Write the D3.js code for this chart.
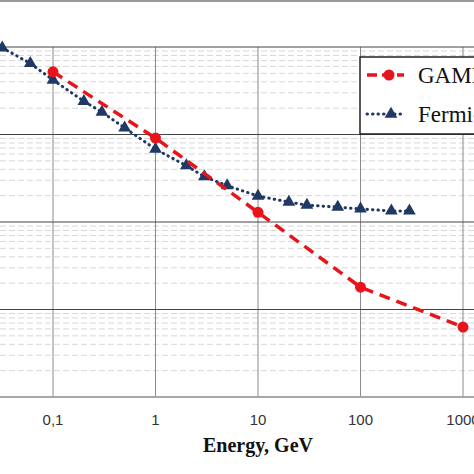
<!DOCTYPE html>
<html><head><meta charset="utf-8">
<script src="https://cdn.jsdelivr.net/npm/d3@7"></script>
<style>body{margin:0;background:#fff}</style>
</head><body>
<script>
// Data
const gammaE = [0.1, 1, 10, 100, 1000];
const gammaF = [0.52, 0.091, 0.0129, 0.0018, 0.00063];
const fermiE = [0.032, 0.06, 0.1, 0.2, 0.3, 0.5, 1, 2, 3, 5, 10, 20, 30, 60, 100, 200, 300];
const fermiF = [0.98, 0.65, 0.42, 0.24, 0.18, 0.119, 0.068, 0.044, 0.033, 0.026, 0.0198, 0.0169, 0.0156, 0.0148, 0.0141, 0.0134, 0.0134];
const xTicks = [0.1, 1, 10, 100, 1000];
const xLabels = ["0,1", "1", "10", "100", "1000"];
const yDecades = [1, 0.1, 0.01, 0.001, 0.0001];

const W = 474, H = 474;
const svg = d3.select("body").append("svg").attr("width", W).attr("height", H);
const x = d3.scaleLog().domain([0.1, 1000]).range([53, 463]);
const y = d3.scaleLog().domain([1, 1e-4]).range([47, 397]);

// figure top border
svg.append("line").attr("x1", 0).attr("x2", W).attr("y1", 1).attr("y2", 1)
  .attr("stroke", "#999").attr("stroke-width", 2);

// minor horizontal grid
const minors = [];
yDecades.slice(1).forEach(d => { for (let k = 2; k <= 9; k++) minors.push(d * k); });
svg.selectAll(".minor").data(minors).join("line")
  .attr("x1", 0).attr("x2", W).attr("y1", d => y(d)).attr("y2", d => y(d))
  .attr("stroke", "#d8d8d8").attr("stroke-dasharray", "6,3");

// vertical grid
svg.selectAll(".vg").data(xTicks).join("line")
  .attr("x1", d => x(d)).attr("x2", d => x(d)).attr("y1", 47).attr("y2", 397)
  .attr("stroke", "#8a8a8a");

// major horizontal grid
svg.selectAll(".hg").data(yDecades).join("line")
  .attr("x1", 0).attr("x2", W).attr("y1", d => y(d)).attr("y2", d => y(d))
  .attr("stroke", "#444").attr("stroke-width", 1.2);
svg.append("line").attr("x1", 0).attr("x2", W).attr("y1", 397).attr("y2", 397)
  .attr("stroke", "#aaa").attr("stroke-width", 1.5);

// Fermi series
const fermi = fermiE.map((e, i) => [e, fermiF[i]]);
svg.append("path").datum(fermi)
  .attr("d", d3.line().x(d => x(d[0])).y(d => y(d[1])))
  .attr("fill", "none").attr("stroke", "#1f3864").attr("stroke-width", 3)
  .attr("stroke-dasharray", "0.5,5").attr("stroke-linecap", "round");
const tri = d3.symbol().type(d3.symbolTriangle).size(70);
svg.selectAll(".ft").data(fermi).join("path")
  .attr("d", tri).attr("fill", "#1f3864")
  .attr("transform", d => `translate(${x(d[0])},${y(d[1])})`);

// GAMMA-400 series
const gamma = gammaE.map((e, i) => [e, gammaF[i]]);
svg.append("path").datum(gamma)
  .attr("d", d3.line().x(d => x(d[0])).y(d => y(d[1])))
  .attr("fill", "none").attr("stroke", "#e8141c").attr("stroke-width", 3.5)
  .attr("stroke-dasharray", "11,7");
svg.selectAll(".gc").data(gamma).join("circle")
  .attr("cx", d => x(d[0])).attr("cy", d => y(d[1])).attr("r", 5.5)
  .attr("fill", "#e8141c");

// legend
const lg = svg.append("g");
lg.append("rect").attr("x", 360).attr("y", 57).attr("width", 130).attr("height", 77)
  .attr("fill", "#fff").attr("stroke", "#222").attr("stroke-width", 1.5);
lg.append("line").attr("x1", 367).attr("x2", 404).attr("y1", 75).attr("y2", 75)
  .attr("stroke", "#e8141c").attr("stroke-width", 3.5).attr("stroke-dasharray", "10,5");
lg.append("circle").attr("cx", 389).attr("cy", 75).attr("r", 5.5).attr("fill", "#e8141c");
lg.append("line").attr("x1", 367).attr("x2", 404).attr("y1", 114).attr("y2", 114)
  .attr("stroke", "#1f3864").attr("stroke-width", 3).attr("stroke-dasharray", "0.5,5").attr("stroke-linecap", "round");
lg.append("path").attr("d", tri).attr("fill", "#1f3864").attr("transform", "translate(391,114)");
lg.append("text").attr("x", 418).attr("y", 83).text("GAMMA-400")
  .attr("font-family", "Liberation Serif").attr("font-size", 23).attr("fill", "#111");
lg.append("text").attr("x", 418).attr("y", 122).text("Fermi-LAT")
  .attr("font-family", "Liberation Serif").attr("font-size", 23).attr("fill", "#111");

// x tick labels
svg.selectAll(".xl").data(xTicks).join("text")
  .attr("x", d => x(d)).attr("y", 425).attr("text-anchor", "middle")
  .attr("font-family", "Liberation Sans").attr("font-size", 15).attr("fill", "#333")
  .text((d, i) => xLabels[i]);

svg.append("text").attr("x", 258).attr("y", 452).attr("text-anchor", "middle")
  .attr("font-family", "Liberation Serif").attr("font-weight", "bold").attr("font-size", 20)
  .attr("fill", "#111").text("Energy, GeV");
</script>
</body></html>
